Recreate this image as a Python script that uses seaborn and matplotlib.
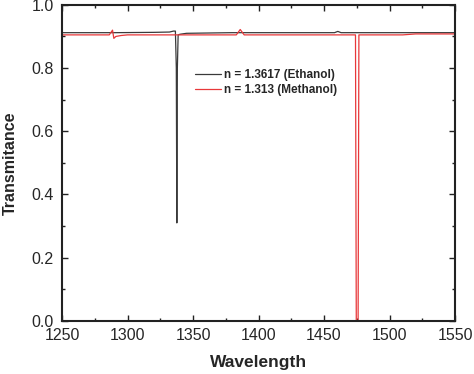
import pandas as pd
import numpy as np
import matplotlib
matplotlib.use('Agg')
import matplotlib.pyplot as plt
import seaborn as sns
from matplotlib.ticker import MultipleLocator

# Transmittance spectra
ethanol_wl = [1250, 1290, 1320, 1332, 1335, 1336.5, 1337.2, 1337.6, 1338.0, 1338.6, 1340,
              1345, 1380, 1440, 1458, 1460.5, 1463, 1500, 1550]
ethanol_t = [0.912, 0.912, 0.913, 0.914, 0.917, 0.917, 0.80, 0.31, 0.80, 0.905, 0.907,
             0.910, 0.912, 0.912, 0.912, 0.916, 0.912, 0.912, 0.912]

methanol_wl = [1250, 1286, 1288.5, 1289.5, 1291, 1295, 1300, 1340, 1383, 1386, 1389,
               1430, 1470, 1474.0, 1474.6, 1476.0, 1476.6, 1480, 1510, 1520, 1550]
methanol_t = [0.905, 0.905, 0.92, 0.894, 0.900, 0.903, 0.905, 0.905, 0.905, 0.922, 0.905,
              0.905, 0.905, 0.905, 0.0, 0.0, 0.905, 0.905, 0.905, 0.908, 0.908]

labels = ['n = 1.3617 (Ethanol)', 'n = 1.313 (Methanol)']

df = pd.concat([
    pd.DataFrame({'Wavelength': ethanol_wl, 'Transmitance': ethanol_t, 'Sample': labels[0]}),
    pd.DataFrame({'Wavelength': methanol_wl, 'Transmitance': methanol_t, 'Sample': labels[1]}),
])

sns.set_style('ticks')
plt.rcParams['font.family'] = ['Liberation Sans', 'DejaVu Sans']
plt.rcParams['xtick.direction'] = 'in'
plt.rcParams['ytick.direction'] = 'in'

fig, ax = plt.subplots(figsize=(4.74, 3.74), dpi=100)
sns.lineplot(data=df, x='Wavelength', y='Transmitance', hue='Sample',
             palette={labels[0]: '#3a3a3a', labels[1]: '#e8383a'},
             estimator=None, sort=False, linewidth=0.9, ax=ax)

ax.set_xlim(1250, 1550)
ax.set_ylim(0, 1.0)
ax.xaxis.set_major_locator(MultipleLocator(50))
ax.xaxis.set_minor_locator(MultipleLocator(25))
ax.yaxis.set_major_locator(MultipleLocator(0.2))
ax.yaxis.set_minor_locator(MultipleLocator(0.1))
ax.tick_params(which='both', top=True, right=True, labelsize=11.5, color='#222222', width=1)
ax.tick_params(which='major', length=4)
ax.tick_params(which='minor', length=2.5)
ax.tick_params(axis='x', pad=5)
ax.tick_params(axis='y', pad=6)
for s in ax.spines.values():
    s.set_linewidth(1.5)
    s.set_color('#222222')

ax.set_xlabel('Wavelength', fontsize=12.5, fontweight='bold', labelpad=9)
ax.set_ylabel('Transmitance', fontsize=11.5, fontweight='bold', labelpad=10)

leg = ax.legend(loc='upper left', bbox_to_anchor=(0.31, 0.83), frameon=False,
                prop={'weight': 'bold', 'size': 8.5}, handlelength=2.2,
                handletextpad=0.3, labelspacing=0.25)

fig.subplots_adjust(left=0.131, right=0.96, top=0.987, bottom=0.142)
fig.savefig('out.png', dpi=100)
